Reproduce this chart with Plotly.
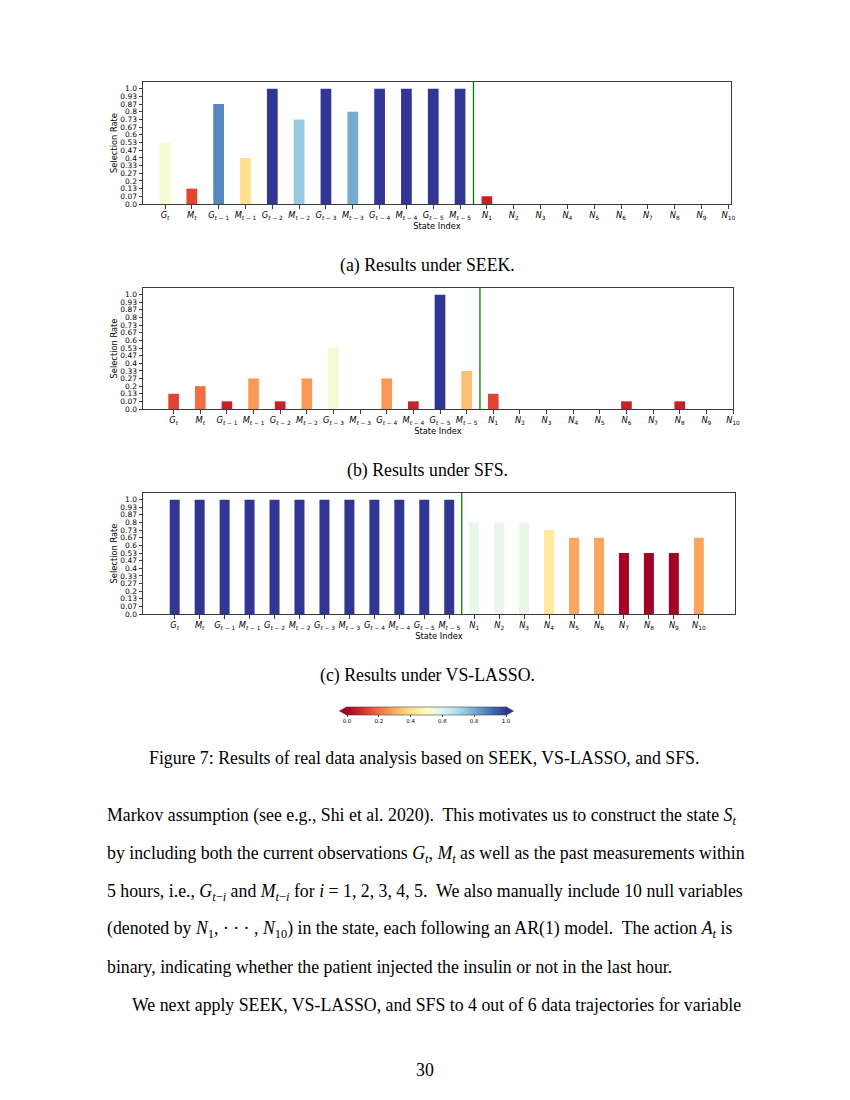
import plotly.graph_objects as go
from plotly.colors import diverging

# ---------------- data ----------------
STATE_LABELS = [
    "<i>G</i><sub><i>t</i></sub>", "<i>M</i><sub><i>t</i></sub>",
    "<i>G</i><sub><i>t</i> − 1</sub>", "<i>M</i><sub><i>t</i> − 1</sub>",
    "<i>G</i><sub><i>t</i> − 2</sub>", "<i>M</i><sub><i>t</i> − 2</sub>",
    "<i>G</i><sub><i>t</i> − 3</sub>", "<i>M</i><sub><i>t</i> − 3</sub>",
    "<i>G</i><sub><i>t</i> − 4</sub>", "<i>M</i><sub><i>t</i> − 4</sub>",
    "<i>G</i><sub><i>t</i> − 5</sub>", "<i>M</i><sub><i>t</i> − 5</sub>",
    "<i>N</i><sub>1</sub>", "<i>N</i><sub>2</sub>", "<i>N</i><sub>3</sub>",
    "<i>N</i><sub>4</sub>", "<i>N</i><sub>5</sub>", "<i>N</i><sub>6</sub>",
    "<i>N</i><sub>7</sub>", "<i>N</i><sub>8</sub>", "<i>N</i><sub>9</sub>",
    "<i>N</i><sub>10</sub>",
]

SEEK = [0.533, 0.133, 0.867, 0.4, 1.0, 0.733, 1.0, 0.8, 1.0, 1.0, 1.0, 1.0,
        0.067, 0.0, 0.0, 0.0, 0.0, 0.0, 0.0, 0.0, 0.0, 0.0]
SFS = [0.133, 0.2, 0.067, 0.267, 0.067, 0.267, 0.533, 0.0, 0.267, 0.067, 1.0, 0.333,
       0.133, 0.0, 0.0, 0.0, 0.0, 0.067, 0.0, 0.067, 0.0, 0.0]
VS_LASSO = [1.0, 1.0, 1.0, 1.0, 1.0, 1.0, 1.0, 1.0, 1.0, 1.0, 1.0, 1.0,
            0.8, 0.8, 0.8, 0.733, 0.667, 0.667, 0.533, 0.533, 0.533, 0.667]

YTICK_VALS = [0.0, 0.067, 0.133, 0.2, 0.267, 0.333, 0.4, 0.467, 0.533, 0.6,
              0.667, 0.733, 0.8, 0.867, 0.933, 1.0]
YTICK_LABELS = ["0.0", "0.07", "0.13", "0.2", "0.27", "0.33", "0.4", "0.47", "0.53",
                "0.6", "0.67", "0.73", "0.8", "0.87", "0.93", "1.0"]

CBAR_TICKS = [0.0, 0.2, 0.4, 0.6, 0.8, 1.0]
CBAR_LABELS = ["0.0", "0.2", "0.4", "0.6", "0.8", "1.0"]

SPLIT = 11.5  # boundary between real and null variables

CAPTIONS = ["(a) Results under SEEK.", "(b) Results under SFS.", "(c) Results under VS-LASSO."]
FIG_CAPTION = "Figure 7: Results of real data analysis based on SEEK, VS-LASSO, and SFS."

BODY = [
    "Markov assumption (see e.g., Shi et al. 2020).  This motivates us to construct the state <i>S</i><sub><i>t</i></sub>",
    "by including both the current observations <i>G</i><sub><i>t</i></sub>, <i>M</i><sub><i>t</i></sub> as well as the past measurements within",
    "5 hours, i.e., <i>G</i><sub><i>t</i>−<i>i</i></sub> and <i>M</i><sub><i>t</i>−<i>i</i></sub> for <i>i</i> = 1, 2, 3, 4, 5.  We also manually include 10 null variables",
    "(denoted by <i>N</i><sub>1</sub>, · · · , <i>N</i><sub>10</sub>) in the state, each following an AR(1) model.  The action <i>A</i><sub><i>t</i></sub> is",
    "binary, indicating whether the patient injected the insulin or not in the last hour.",
    "We next apply SEEK, VS-LASSO, and SFS to 4 out of 6 data trajectories for variable",
]
PAGE_NO = "30"

# ---------------- layout constants ----------------
W, H = 850, 1100
COLORSCALE = diverging.RdYlBu


def px(x):
    return x / W


def py(y):
    return 1 - y / H


panels = [
    dict(vals=SEEK, top=82, bot=204, left=143, right=731, xr=[-0.82, 21.1], cap_y=265),
    dict(vals=SFS, top=288, bot=409, left=143, right=733, xr=[-1.15, 21.0], cap_y=470),
    dict(vals=VS_LASSO, top=493, bot=614, left=143, right=735, xr=[-1.27, 22.45], cap_y=675),
]

fig = go.Figure()
layout = dict(
    width=W, height=H, margin=dict(l=0, r=0, t=0, b=0),
    paper_bgcolor="white", plot_bgcolor="white", showlegend=False,
    font=dict(family="DejaVu Sans", color="black"),
)
shapes = []
annotations = []

FONT_TEXT = "Liberation Serif"
TXT_SIZE = 17.8

for i, p in enumerate(panels):
    n = "" if i == 0 else str(i + 1)
    xa, ya = "x" + n, "y" + n
    vals = p["vals"]
    fig.add_trace(go.Bar(
        x=list(range(len(vals))), y=vals, width=0.4,
        xaxis=xa, yaxis=ya,
        marker=dict(color=vals, colorscale=COLORSCALE, cmin=min(vals), cmax=max(vals),
                    line=dict(width=0)),
        hoverinfo="skip",
    ))
    axis_common = dict(showline=True, linecolor="#3a3a3a", linewidth=1, mirror=True,
                       ticks="outside", ticklen=3.5, tickwidth=0.8, tickcolor="#3a3a3a",
                       showgrid=False, zeroline=False, automargin=False)
    layout["xaxis" + n] = dict(
        domain=[px(p["left"]), px(p["right"])], range=p["xr"], anchor=ya,
        tickvals=list(range(len(STATE_LABELS))), ticktext=STATE_LABELS,
        tickfont=dict(size=8.3, family="DejaVu Sans"), tickangle=0,
        title=dict(text="State Index", font=dict(size=8.3, family="DejaVu Sans"), standoff=2),
        **axis_common,
    )
    layout["yaxis" + n] = dict(
        domain=[py(p["bot"]), py(p["top"])], range=[0, 1.058], anchor=xa,
        tickvals=YTICK_VALS, ticktext=YTICK_LABELS,
        tickfont=dict(size=7.5, family="DejaVu Sans"),
        title=dict(text="Selection Rate", font=dict(size=8.3, family="DejaVu Sans"), standoff=1),
        **axis_common,
    )
    shapes.append(dict(type="line", xref=xa, yref=ya + " domain", x0=SPLIT, x1=SPLIT,
                       y0=0, y1=1, line=dict(color="green", width=1.3)))
    annotations.append(dict(text=CAPTIONS[i], xref="paper", yref="paper", x=px(427),
                            y=py(p["cap_y"]), xanchor="center", yanchor="middle",
                            showarrow=False, font=dict(family=FONT_TEXT, size=TXT_SIZE)))

# colorbar via dummy trace
CB_L, CB_R, CB_TOP, CB_T = 347, 506, 707, 8
fig.add_trace(go.Scatter(
    x=[None, None], y=[None, None], mode="markers", xaxis="x3", yaxis="y3",
    marker=dict(color=[0, 1], cmin=0, cmax=1, colorscale=COLORSCALE, showscale=True,
                colorbar=dict(orientation="h", x=px((CB_L + CB_R) / 2), xanchor="center",
                              y=py(CB_TOP), yanchor="top", ypad=0, xpad=0,
                              len=(CB_R - CB_L) / W, lenmode="fraction",
                              thickness=CB_T, thicknessmode="pixels",
                              outlinewidth=0.6, outlinecolor="#444",
                              tickvals=CBAR_TICKS, ticktext=CBAR_LABELS,
                              ticks="outside", ticklen=2, tickcolor="#444",
                              tickfont=dict(size=5.5, family="DejaVu Sans"))),
    hoverinfo="skip",
))
# extend triangles
cy = CB_TOP + CB_T / 2
half = CB_T / 2 + 0.5
shapes.append(dict(type="path", xref="paper", yref="paper",
                   path=f"M {px(CB_L)} {py(cy - half)} L {px(CB_L - 8)} {py(cy)} L {px(CB_L)} {py(cy + half)} Z",
                   fillcolor=COLORSCALE[0], line=dict(width=0)))
shapes.append(dict(type="path", xref="paper", yref="paper",
                   path=f"M {px(CB_R)} {py(cy - half)} L {px(CB_R + 8)} {py(cy)} L {px(CB_R)} {py(cy + half)} Z",
                   fillcolor=COLORSCALE[-1], line=dict(width=0)))

# figure caption
annotations.append(dict(text=FIG_CAPTION, xref="paper", yref="paper", x=px(424), y=py(758),
                        xanchor="center", yanchor="middle", showarrow=False,
                        font=dict(family=FONT_TEXT, size=TXT_SIZE)))

# body text
BODY_Y = [816, 854, 892, 929, 967, 1005]
for j, (line, yy) in enumerate(zip(BODY, BODY_Y)):
    x0 = 130 if j == 5 else 105
    annotations.append(dict(text=line, xref="paper", yref="paper", x=px(x0), y=py(yy),
                            xanchor="left", yanchor="middle", showarrow=False,
                            font=dict(family=FONT_TEXT, size=TXT_SIZE)))
annotations.append(dict(text=PAGE_NO, xref="paper", yref="paper", x=px(425), y=py(1070),
                        xanchor="center", yanchor="middle", showarrow=False,
                        font=dict(family=FONT_TEXT, size=TXT_SIZE)))

layout["shapes"] = shapes
layout["annotations"] = annotations
fig.update_layout(**layout)
fig.write_html("out.html", config={"displayModeBar": False},
               post_script="document.body.style.margin='0px';document.body.style.overflow='hidden';")
